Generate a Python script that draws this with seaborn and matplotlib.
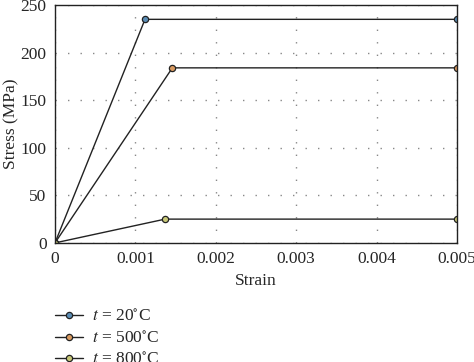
import pandas as pd
import seaborn as sns
import matplotlib.pyplot as plt

sns.set_theme(style="white")
plt.rcParams['font.family'] = ['Liberation Serif', 'DejaVu Serif']
plt.rcParams['mathtext.fontset'] = 'stix'

# stress-strain curves (bilinear) at three temperatures
strain_20 = [0, 0.00112, 0.005]
stress_20 = [0, 235, 235]
strain_500 = [0, 0.00146, 0.005]
stress_500 = [0, 184, 184]
strain_800 = [0, 0.00137, 0.005]
stress_800 = [0, 25, 25]

labels = [r'$t$ = 20$^{\circ}$C', r'$t$ = 500$^{\circ}$C', r'$t$ = 800$^{\circ}$C']
face_colors = ['#5b8db5', '#d99a60', '#c8c878']

fig = plt.figure(figsize=(4.74, 3.62), dpi=100)
ax = fig.add_axes([0.116, 0.329, 0.848, 0.657])

series = [(strain_20, stress_20), (strain_500, stress_500), (strain_800, stress_800)]
for (x, y), lab, fc in zip(series, labels, face_colors):
    df = pd.DataFrame({'Strain': x, 'Stress': y})
    sns.lineplot(data=df, x='Strain', y='Stress', ax=ax, color='#222222', lw=1.0,
                 marker='o', markersize=4.5, markerfacecolor=fc,
                 markeredgecolor='#222222', markeredgewidth=0.9, label=lab)

ax.set_xlim(0, 0.005)
ax.set_ylim(0, 250)
ax.set_xticks([0, 0.001, 0.002, 0.003, 0.004, 0.005])
ax.set_xticklabels(['0', '0.001', '0.002', '0.003', '0.004', '0.005'])
ax.set_yticks([0, 50, 100, 150, 200, 250])
ax.grid(True, linestyle=(0, (1, 8)), color='#888888', lw=1.0)
ax.tick_params(direction='in', length=3, width=0.8, labelsize=12.5, color='#222222', pad=6)
for s in ax.spines.values():
    s.set_color('#222222')
    s.set_linewidth(1.0)
ax.set_xlabel('Strain', fontsize=12.5, labelpad=4)
ax.set_ylabel('Stress (MPa)', fontsize=12.5, labelpad=1)

ax.legend(loc='upper left', bbox_to_anchor=(0.098, 0.17), bbox_transform=fig.transFigure,
          frameon=False, fontsize=12.5, handlelength=1.6, labelspacing=0.3,
          handletextpad=0.5, borderpad=0)

fig.savefig('out.png', dpi=100)
